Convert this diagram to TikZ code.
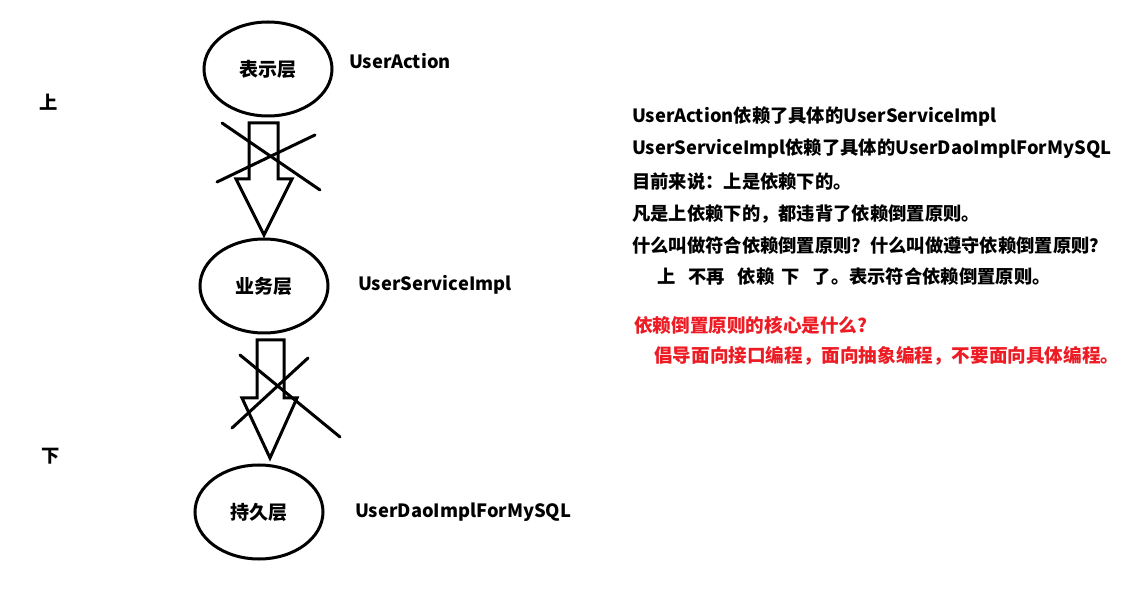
\documentclass[tikz,border=0pt]{standalone}
\usepackage{fontspec}
\setmainfont{Noto Sans CJK SC}
\usetikzlibrary{shapes.geometric}
\begin{document}
\begin{tikzpicture}[x=1pt,y=-1pt,
  layer/.style={ellipse,draw,line width=3pt,minimum width=128pt,minimum height=94pt,inner sep=0pt,font=\fontsize{19}{22}\selectfont\bfseries},
  lbl/.style={anchor=west,inner sep=0pt,font=\fontsize{18.3}{22}\selectfont\bfseries},
  blockarrow/.style={draw,line width=3pt,line join=miter},
  cross/.style={draw,line width=3pt,line cap=round},
  red/.style={text=redtxt,font=\fontsize{18.6}{22}\selectfont\bfseries}]
\definecolor{redtxt}{RGB}{237,28,36}
\useasboundingbox (0,0) rectangle (1141,593);
\fill[white] (0,0) rectangle (1141,593);
% layers
\node[layer] (p) at (268,69) {表示层};
\node[layer] (b) at (264,286) {业务层};
\node[layer] (d) at (259,512) {持久层};
\node[lbl] (pl) at (349,61) {UserAction};
\node[lbl] (bl) at (358,285) {UserServiceImpl};
\node[lbl] (dl) at (355,512) {UserDaoImplForMySQL};
\node[lbl] (up) at (39,102) {上};
\node[lbl] (down) at (41,456) {下};
% arrow 1
\draw[blockarrow] (249,123) -- (278,123) -- (278,179) -- (292,179) -- (264,235) -- (236,179) -- (249,179) -- cycle;
\draw[cross] (222,123) -- (320,190);
\draw[cross] (217,182) -- (315,135);
% arrow 2
\draw[blockarrow] (257,340) -- (284,340) -- (284,398) -- (297,398) -- (270,458) -- (242,398) -- (257,398) -- cycle;
\draw[cross] (240,355) -- (340,437);
\draw[cross] (232,428) -- (308,358);
% right text
\node[lbl] (t1) at (632,117) {UserAction依赖了具体的UserServiceImpl};
\node[lbl] (t2) at (632,149) {UserServiceImpl依赖了具体的UserDaoImplForMySQL};
\node[lbl] (t3) at (632,182) {目前来说：上是依赖下的。};
\node[lbl] (t4) at (632,214) {凡是上依赖下的，都违背了依赖倒置原则。};
\node[lbl] (t5) at (632,246) {什么叫做符合依赖倒置原则？什么叫做遵守依赖倒置原则？};
\node[lbl] (t6) at (657,277) {上\hspace{0.7em}不再\hspace{0.7em}依赖\hspace{0.4em}下\hspace{0.7em}了。表示符合依赖倒置原则。};
\node[lbl,red] (r1) at (634,325) {依赖倒置原则的核心是什么?};
\node[lbl,red] (r2) at (654,356) {倡导面向接口编程，面向抽象编程，不要面向具体编程。};
\end{tikzpicture}
\end{document}
